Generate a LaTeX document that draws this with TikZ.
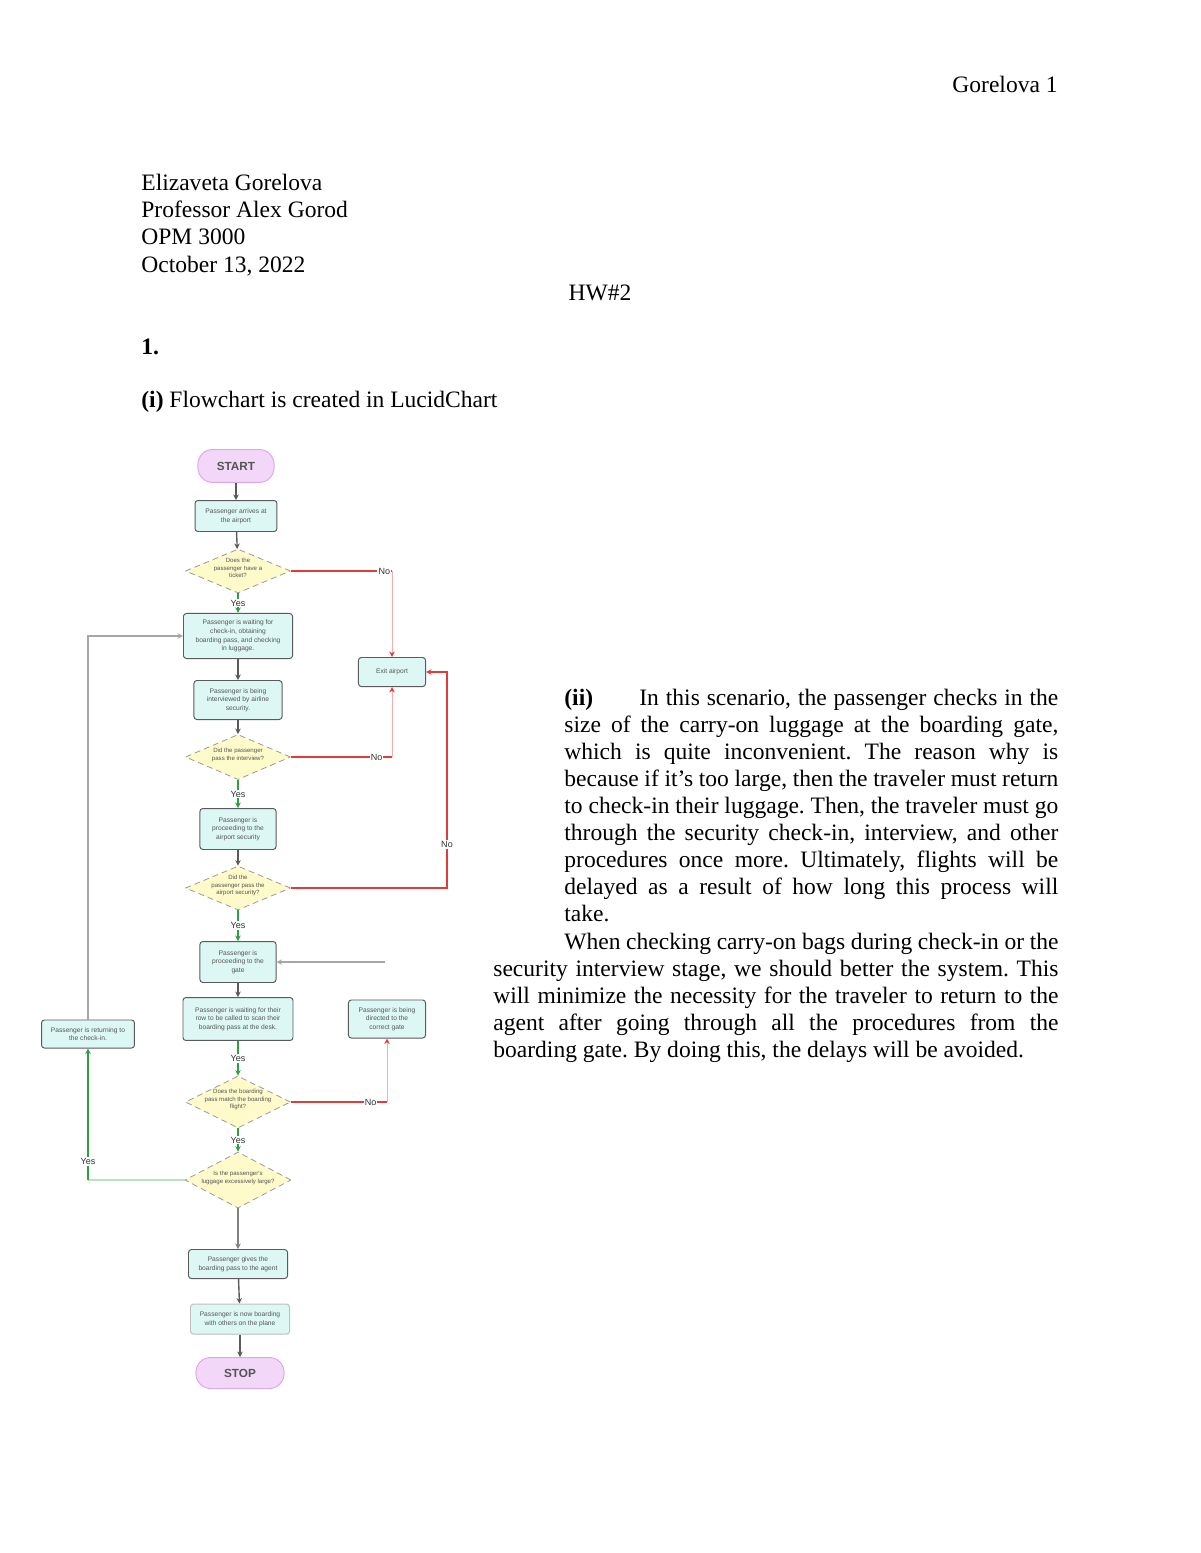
\documentclass[tikz,border=0pt]{standalone}
\usepackage{fontspec}
\setmainfont{Liberation Serif}
\newfontfamily\lucidfont{Liberation Sans}
\usepackage{xcolor}
\usepackage{tikz}
\usetikzlibrary{shapes.geometric, arrows.meta, positioning}

\definecolor{boxfill}{HTML}{DDF8F4}
\definecolor{boxline}{HTML}{5A5A5A}
\definecolor{askfill}{HTML}{FFFAC9}
\definecolor{endfill}{HTML}{F3D7F8}
\definecolor{endline}{HTML}{DDA8EB}
\definecolor{noline}{HTML}{E23B3B}
\definecolor{nofaint}{HTML}{F6AFAF}
\definecolor{yesline}{HTML}{2EA043}
\definecolor{yesfaint}{HTML}{B9E3BC}
\definecolor{flowtext}{HTML}{555555}

\hyphenpenalty=10000
\tolerance=9999
\frenchspacing

% diamond text that does not size the diamond
\newcommand{\asktext}[1]{\makebox[0pt]{\smash{\begin{tabular}{@{}c@{}}#1\end{tabular}}}}

\begin{document}
\begin{tikzpicture}[
    x=0.51pt, y=-0.51pt,
    page/.style={
        font=\fontsize{12}{13.77}\selectfont,
        inner sep=0pt
    },
    terminal/.style={
        rectangle,
        rounded corners=7.5pt,
        draw=endline,
        fill=endfill,
        line width=0.5pt,
        inner sep=0pt,
        text=flowtext,
        font=\lucidfont\bfseries\fontsize{6}{7}\selectfont
    },
    process/.style={
        rectangle,
        rounded corners=1.5pt,
        draw=boxline,
        fill=boxfill,
        line width=0.5pt,
        align=center,
        inner sep=0pt,
        text=flowtext,
        font=\lucidfont\fontsize{3.4}{4.4}\selectfont
    },
    question/.style={
        diamond,
        draw=gray!80,
        densely dashed,
        fill=askfill,
        line width=0.4pt,
        inner sep=0pt,
        text=flowtext,
        font=\lucidfont\fontsize{3.1}{4}\selectfont
    },
    arrow/.style={
        -{Stealth[length=2.8pt, width=2.8pt]},
        draw=boxline,
        line width=0.7pt
    },
    yes/.style={
        arrow,
        draw=yesline
    },
    no/.style={
        draw=noline,
        line width=0.7pt
    },
    nobranch/.style={
        -{Stealth[length=2.8pt, width=2.8pt, color=noline]},
        draw=nofaint,
        line width=0.5pt
    },
    labelstyle/.style={
        font=\lucidfont\fontsize{4.6}{5}\selectfont,
        text=black!80,
        fill=white,
        inner sep=0.6pt
    }
]
    \useasboundingbox (0,0) rectangle (1200,1553);

    % Page text
    \node [page, anchor=base east] (header) at (1058,93) {Gorelova 1};
    \node [page, anchor=base west] (author) at (141,191) {Elizaveta Gorelova};
    \node [page, anchor=base west] (prof) at (141,218) {Professor Alex Gorod};
    \node [page, anchor=base west] (course) at (141,245) {OPM 3000};
    \node [page, anchor=base west] (date) at (141,272) {October 13, 2022};
    \node [page, anchor=base] (title) at (600,300) {HW\#2};
    \node [page, anchor=base west] (qnum) at (141,354) {\textbf{1.}};
    \node [page, anchor=base west] (parti) at (141,407) {\textbf{(i)} Flowchart is created in LucidChart};

    \node [page, anchor=north west, text width=251.9pt, align=justify] (partii) at (564,689) {\makebox[38.25pt][l]{\textbf{(ii)}}In this scenario, the passenger checks in the\linebreak
        size of the carry-on luggage at the boarding gate,\linebreak
        which is quite inconvenient. The reason why is\linebreak
        because if it's too large, then the traveler must return\linebreak
        to check-in their luggage. Then, the traveler must go\linebreak
        through the security check-in, interview, and other\linebreak
        procedures once more. Ultimately, flights will be\linebreak
        delayed as a result of how long this process will\linebreak
        take.};
    \node [page, anchor=north west, text width=288.2pt, align=justify] (fix) at (493,933) {\hspace*{36.2pt}When checking carry-on bags during check-in or the\linebreak
        security interview stage, we should better the system. This\linebreak
        will minimize the necessity for the traveler to return to the\linebreak
        agent after going through all the procedures from the\linebreak
        boarding gate. By doing this, the delays will be avoided.};

    % Flowchart: main column
    \node [terminal, minimum width=38.8pt, minimum height=16.8pt] (start) at (236,466) {START};
    \node [process, minimum width=41.8pt, minimum height=15.8pt] (arrive) at (236,516) {Passenger arrives at\\the airport};
    \node [question, minimum width=53.6pt, minimum height=22.4pt] (ticket) at (238,571) {\asktext{Does the\\passenger have a\\ticket?}};
    \node [process, minimum width=55.6pt, minimum height=23pt] (checkin) at (238,636) {Passenger is waiting for\\check-in, obtaining\\boarding pass, and checking\\in luggage.};
    \node [process, minimum width=44.9pt, minimum height=19.9pt] (interview) at (238,700) {Passenger is being\\interviewed by airline\\security.};
    \node [question, minimum width=53.6pt, minimum height=23pt] (passint) at (238,757) {\asktext{Did the passenger\\pass the interview?}};
    \node [process, minimum width=38.8pt, minimum height=20.9pt] (security) at (238,829) {Passenger is\\proceeding to the\\airport security};
    \node [question, minimum width=53.6pt, minimum height=22.4pt] (passsec) at (238,888) {\asktext{Did the\\passenger pass the\\airport security?}};
    \node [process, minimum width=38.8pt, minimum height=20.9pt] (gate) at (238,962) {Passenger is\\proceeding to the\\gate};
    \node [process, minimum width=56.1pt, minimum height=21.9pt] (queue) at (238,1019) {Passenger is waiting for their\\row to be called to scan their\\boarding pass at the desk.};
    \node [question, minimum width=53.6pt, minimum height=26.5pt] (match) at (238,1102) {\asktext{Does the boarding\\pass match the boarding\\flight?}};
    \node [question, minimum width=54.1pt, minimum height=28.6pt] (size) at (238,1180) {\asktext{Is the passenger's\\luggage excessively large?}};
    \node [process, minimum width=50.5pt, minimum height=14.8pt] (handover) at (238,1264) {Passenger gives the\\boarding pass to the agent};
    \node [process, draw=gray!50, minimum width=50.5pt, minimum height=15.3pt] (board) at (240,1319) {Passenger is now boarding\\with others on the plane};
    \node [terminal, minimum width=44.9pt, minimum height=15.8pt] (stop) at (240,1373) {STOP};

    % Flowchart: side boxes
    \node [process, minimum width=34.2pt, minimum height=14.8pt] (exit) at (392,672) {Exit airport};
    \node [process, minimum width=39.3pt, minimum height=19.4pt] (redirect) at (387,1019) {Passenger is being\\directed to the\\correct gate};
    \node [process, minimum width=47.4pt, minimum height=14.3pt] (recheck) at (88,1034) {Passenger is returning to\\the check-in.};
    \coordinate (gatefeed) at (385,962);
    \coordinate (secloop) at (447,672);

    % Connections
    \draw [arrow] (start) -- (arrive);
    \draw [arrow] (arrive) -- (ticket);
    \draw [yes] (ticket) -- node [labelstyle] {Yes} (checkin);
    \draw [no] (ticket.east) -- (ticket.east -| exit) node [labelstyle, anchor=east] {No};
    \draw [nobranch] (ticket.east -| exit) -- (exit.north);

    \draw [arrow] (checkin) -- (interview);
    \draw [arrow] (interview) -- (passint);
    \draw [yes] (passint) -- node [labelstyle] {Yes} (security);
    \draw [no] (passint.east) -- (passint.east -| exit) node [labelstyle, anchor=east, xshift=-4pt] {No};
    \draw [nobranch] (passint.east -| exit) -- (exit.south);

    \draw [arrow] (security) -- (passsec);
    \draw [yes] (passsec) -- node [labelstyle] {Yes} (gate);
    \draw [no, -{Stealth[length=2.8pt, width=2.8pt]}] (passsec.east) -| node [labelstyle, pos=0.6] {No} (secloop) -- (exit.east);

    \draw [arrow, draw=gray!70] (gatefeed) -- (gate.east);
    \draw [arrow] (gate) -- (queue);
    \draw [yes] (queue) -- node [labelstyle] {Yes} (match);
    \draw [no] (match.east) -- (match.east -| redirect) node [labelstyle, anchor=east, xshift=-4.5pt] {No};
    \draw [nobranch] (match.east -| redirect) -- (redirect.south);

    \draw [yes] (match) -- node [labelstyle] {Yes} (size);
    \draw [draw=yesfaint, line width=0.7pt] (size.west) -- (size.west -| recheck);
    \draw [yes] (size.west -| recheck) -- node [labelstyle, pos=0.14] {Yes} (recheck.south);
    \draw [arrow, draw=gray!70] (recheck.north) |- (checkin.west);

    \draw [arrow, draw=gray] (size) -- (handover);
    \draw [arrow] (handover) -- (board);
    \draw [arrow] (board) -- (stop);

\end{tikzpicture}
\end{document}
